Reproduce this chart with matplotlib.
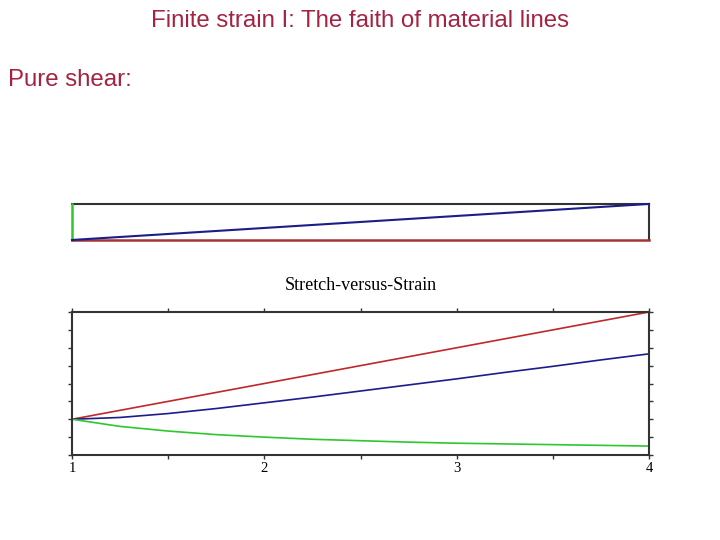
import matplotlib
matplotlib.use("Agg")
import matplotlib.pyplot as plt
from matplotlib.ticker import MultipleLocator, NullFormatter

# stretch (x axis) and the stretch of three material lines
strain = [1.0, 1.25, 1.5, 1.75, 2.0, 2.25, 2.5, 2.75, 3.0, 3.25, 3.5, 3.75, 4.0]
stretch_x = [1.0, 1.25, 1.5, 1.75, 2.0, 2.25, 2.5, 2.75, 3.0, 3.25, 3.5, 3.75, 4.0]
stretch_diag = [1.0, 1.05, 1.16, 1.30, 1.46, 1.62, 1.79, 1.96, 2.13, 2.31, 2.48, 2.66, 2.83]
stretch_y = [1.0, 0.80, 0.67, 0.57, 0.50, 0.44, 0.40, 0.36, 0.33, 0.31, 0.29, 0.27, 0.25]
x_ticks = [1, 2, 3, 4]

# deformed box (width, height) at the end of the shear
box_w = 4.0
box_h = 0.25

title_col = "#a52342"
red = "#c0282d"
blue = "#1c1c8a"
green = "#2ec82e"
frame = "#333333"

fig = plt.figure(figsize=(7.2, 5.4), dpi=100)

fig.text(0.5, 0.962, "Finite strain I: The faith of material lines",
         ha="center", va="center", fontsize=17.3, color=title_col,
         family="Liberation Sans")
fig.text(0.011, 0.851, "Pure shear:", ha="left", va="center",
         fontsize=17.3, color=title_col, family="Liberation Sans")

# the deformed box
bx = fig.add_axes([0.1, 0.5556, 0.8014, 0.0667])
bx.set_xlim(0, box_w)
bx.set_ylim(0, box_h)
bx.axis("off")
bx.plot([0, box_w], [box_h, box_h], color=frame, lw=1.5, clip_on=False)
bx.plot([box_w, box_w], [0, box_h], color=frame, lw=1.5, clip_on=False)
bx.plot([0, 0], [0, box_h], color=green, lw=1.8, clip_on=False)
bx.plot([0, box_w], [0, 0], color="#a03535", lw=1.8, clip_on=False)
bx.plot([0, box_w], [0, box_h], color=blue, lw=1.5, clip_on=False)

# stretch versus strain
ax = fig.add_axes([0.1, 0.1574, 0.8014, 0.2648])
ax.plot(strain, stretch_x, color=red, lw=1.2)
ax.plot(strain, stretch_diag, color=blue, lw=1.2)
ax.plot(strain, stretch_y, color=green, lw=1.2)
ax.set_xlim(1, 4)
ax.set_ylim(0, 4)
ax.set_xticks(x_ticks)
ax.set_xticklabels([str(t) for t in x_ticks], family="Liberation Serif", fontsize=10.5)
ax.xaxis.set_minor_locator(MultipleLocator(0.5))
ax.yaxis.set_major_locator(MultipleLocator(0.5))
ax.yaxis.set_major_formatter(NullFormatter())
ax.tick_params(which="both", direction="out", length=3, width=1, color=frame,
               top=True, right=True, pad=2)
for s in ax.spines.values():
    s.set_color(frame)
    s.set_linewidth(1.5)
ax.set_title("Stretch-versus-Strain", family="Liberation Serif", fontsize=13, pad=16)

fig.savefig("out.png", dpi=100)
